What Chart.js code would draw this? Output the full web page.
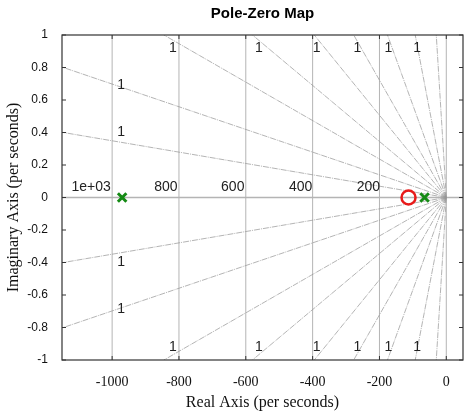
<!DOCTYPE html>
<html><head><script src="https://cdn.jsdelivr.net/npm/chart.js@4"></script>
<style>body{margin:0;background:#fff}#w{width:474px;height:416px}</style></head>
<body><div id="w"><canvas id="c"></canvas></div>
<script>
const poles = [{x:-970,y:0},{x:-65,y:0}];
const zeros = [{x:-113,y:0}];
const rayEnds = [[-1146,0.8],[-1146,0.4],[-845,1],[-580,1],[-395,1],[-277,1],[-176,1],[-93,1],[-30,1]];
const freqLines = [-1000,-800,-600,-400,-200,0];
const freqLabels = [["1e+03",-1063],["800",-839],["600",-639],["400",-436],["200",-233]];
const dampLabelsX = [-818,-561,-388,-266,-173,-87];
const dampSideY = [0.69,0.40];
const xTicks = [-1000,-800,-600,-400,-200,0];

const grey = 'rgba(150,150,150,0.9)';
const ds = [];
rayEnds.forEach(([x,y])=>{
  [1,-1].forEach(s=>ds.push({type:'line',data:[{x:0,y:0},{x:x,y:s*y}],borderColor:grey,borderWidth:0.8,borderDash:[6,1,1,1],pointRadius:0,order:5}));
});
freqLines.forEach(x=>ds.push({type:'line',data:[{x:x,y:-1},{x:x,y:1}],borderColor:'rgba(180,180,180,1)',borderWidth:1,pointRadius:0,order:5}));
ds.push({type:'line',data:[{x:-1150,y:0},{x:50,y:0}],borderColor:'rgba(180,180,180,1)',borderWidth:1.5,pointRadius:0,order:5});
ds.push({type:'scatter',data:poles,pointStyle:'crossRot',pointRadius:6,borderColor:'#148a14',borderWidth:3,order:1});
ds.push({type:'scatter',data:zeros,pointStyle:'circle',pointRadius:7,borderColor:'#e81a1a',backgroundColor:'rgba(0,0,0,0)',borderWidth:2.5,order:1});

const textPlugin={id:'txt',afterDatasetsDraw(ch){
  const c=ch.ctx,xs=ch.scales.x,ys=ch.scales.y,a=ch.chartArea;
  c.save();c.fillStyle='#222';c.textAlign='center';c.textBaseline='middle';
  c.font='14px "Liberation Sans", Arial';
  freqLabels.forEach(([t,x])=>c.fillText(t,xs.getPixelForValue(x),ys.getPixelForValue(0.065)));
  dampLabelsX.forEach(x=>{c.fillText('1',xs.getPixelForValue(x),ys.getPixelForValue(0.92));c.fillText('1',xs.getPixelForValue(x),ys.getPixelForValue(-0.92));});
  dampSideY.forEach(y=>{c.fillText('1',xs.getPixelForValue(-973),ys.getPixelForValue(y));c.fillText('1',xs.getPixelForValue(-973),ys.getPixelForValue(-y));});
  c.font='bold 15px "Liberation Sans", Arial';c.fillStyle='#000';
  c.fillText('Pole-Zero Map',(a.left+a.right)/2,14);
  c.strokeStyle='#333';c.lineWidth=1.2;c.strokeRect(a.left,a.top,a.right-a.left,a.bottom-a.top);
  c.lineWidth=1;c.beginPath();
  for(let v=-1;v<=1.001;v+=0.2){const p=ys.getPixelForValue(v);c.moveTo(a.left,p);c.lineTo(a.left+4,p);c.moveTo(a.right,p);c.lineTo(a.right-4,p);}
  xTicks.forEach(v=>{const p=xs.getPixelForValue(v);c.moveTo(p,a.bottom);c.lineTo(p,a.bottom-4);c.moveTo(p,a.top);c.lineTo(p,a.top+4);});
  c.stroke();c.restore();
}};

new Chart(document.getElementById('c'),{
  data:{datasets:ds},
  options:{responsive:true,maintainAspectRatio:false,animation:false,
    layout:{padding:{top:35,right:11,left:0,bottom:0}},
    plugins:{legend:{display:false},tooltip:{enabled:false},title:{display:false}},
    scales:{
      x:{type:'linear',min:-1150,max:50,grid:{display:false},border:{display:false},
        afterBuildTicks(s){s.ticks=xTicks.map(v=>({value:v}));},
        afterFit(s){s.height=56;},
        ticks:{color:'#111',font:{family:'"Liberation Serif"',size:14},padding:6,callback:v=>String(v)},
        title:{display:true,text:'Real Axis (per seconds)',color:'#111',font:{family:'"Liberation Serif"',size:16},padding:{top:4}}},
      y:{type:'linear',min:-1,max:1,grid:{display:false},border:{display:false},
        afterFit(s){s.width=62;},
        ticks:{stepSize:0.2,color:'#111',font:{family:'"Liberation Sans"',size:12},padding:6,callback:v=>Math.abs(v)<1e-9?'0':String(Math.round(v*10)/10)},
        title:{display:true,text:'Imaginary Axis (per seconds)',color:'#111',font:{family:'"Liberation Serif"',size:16},padding:{bottom:2}}}
    }},
  plugins:[textPlugin]
});
</script></body></html>
